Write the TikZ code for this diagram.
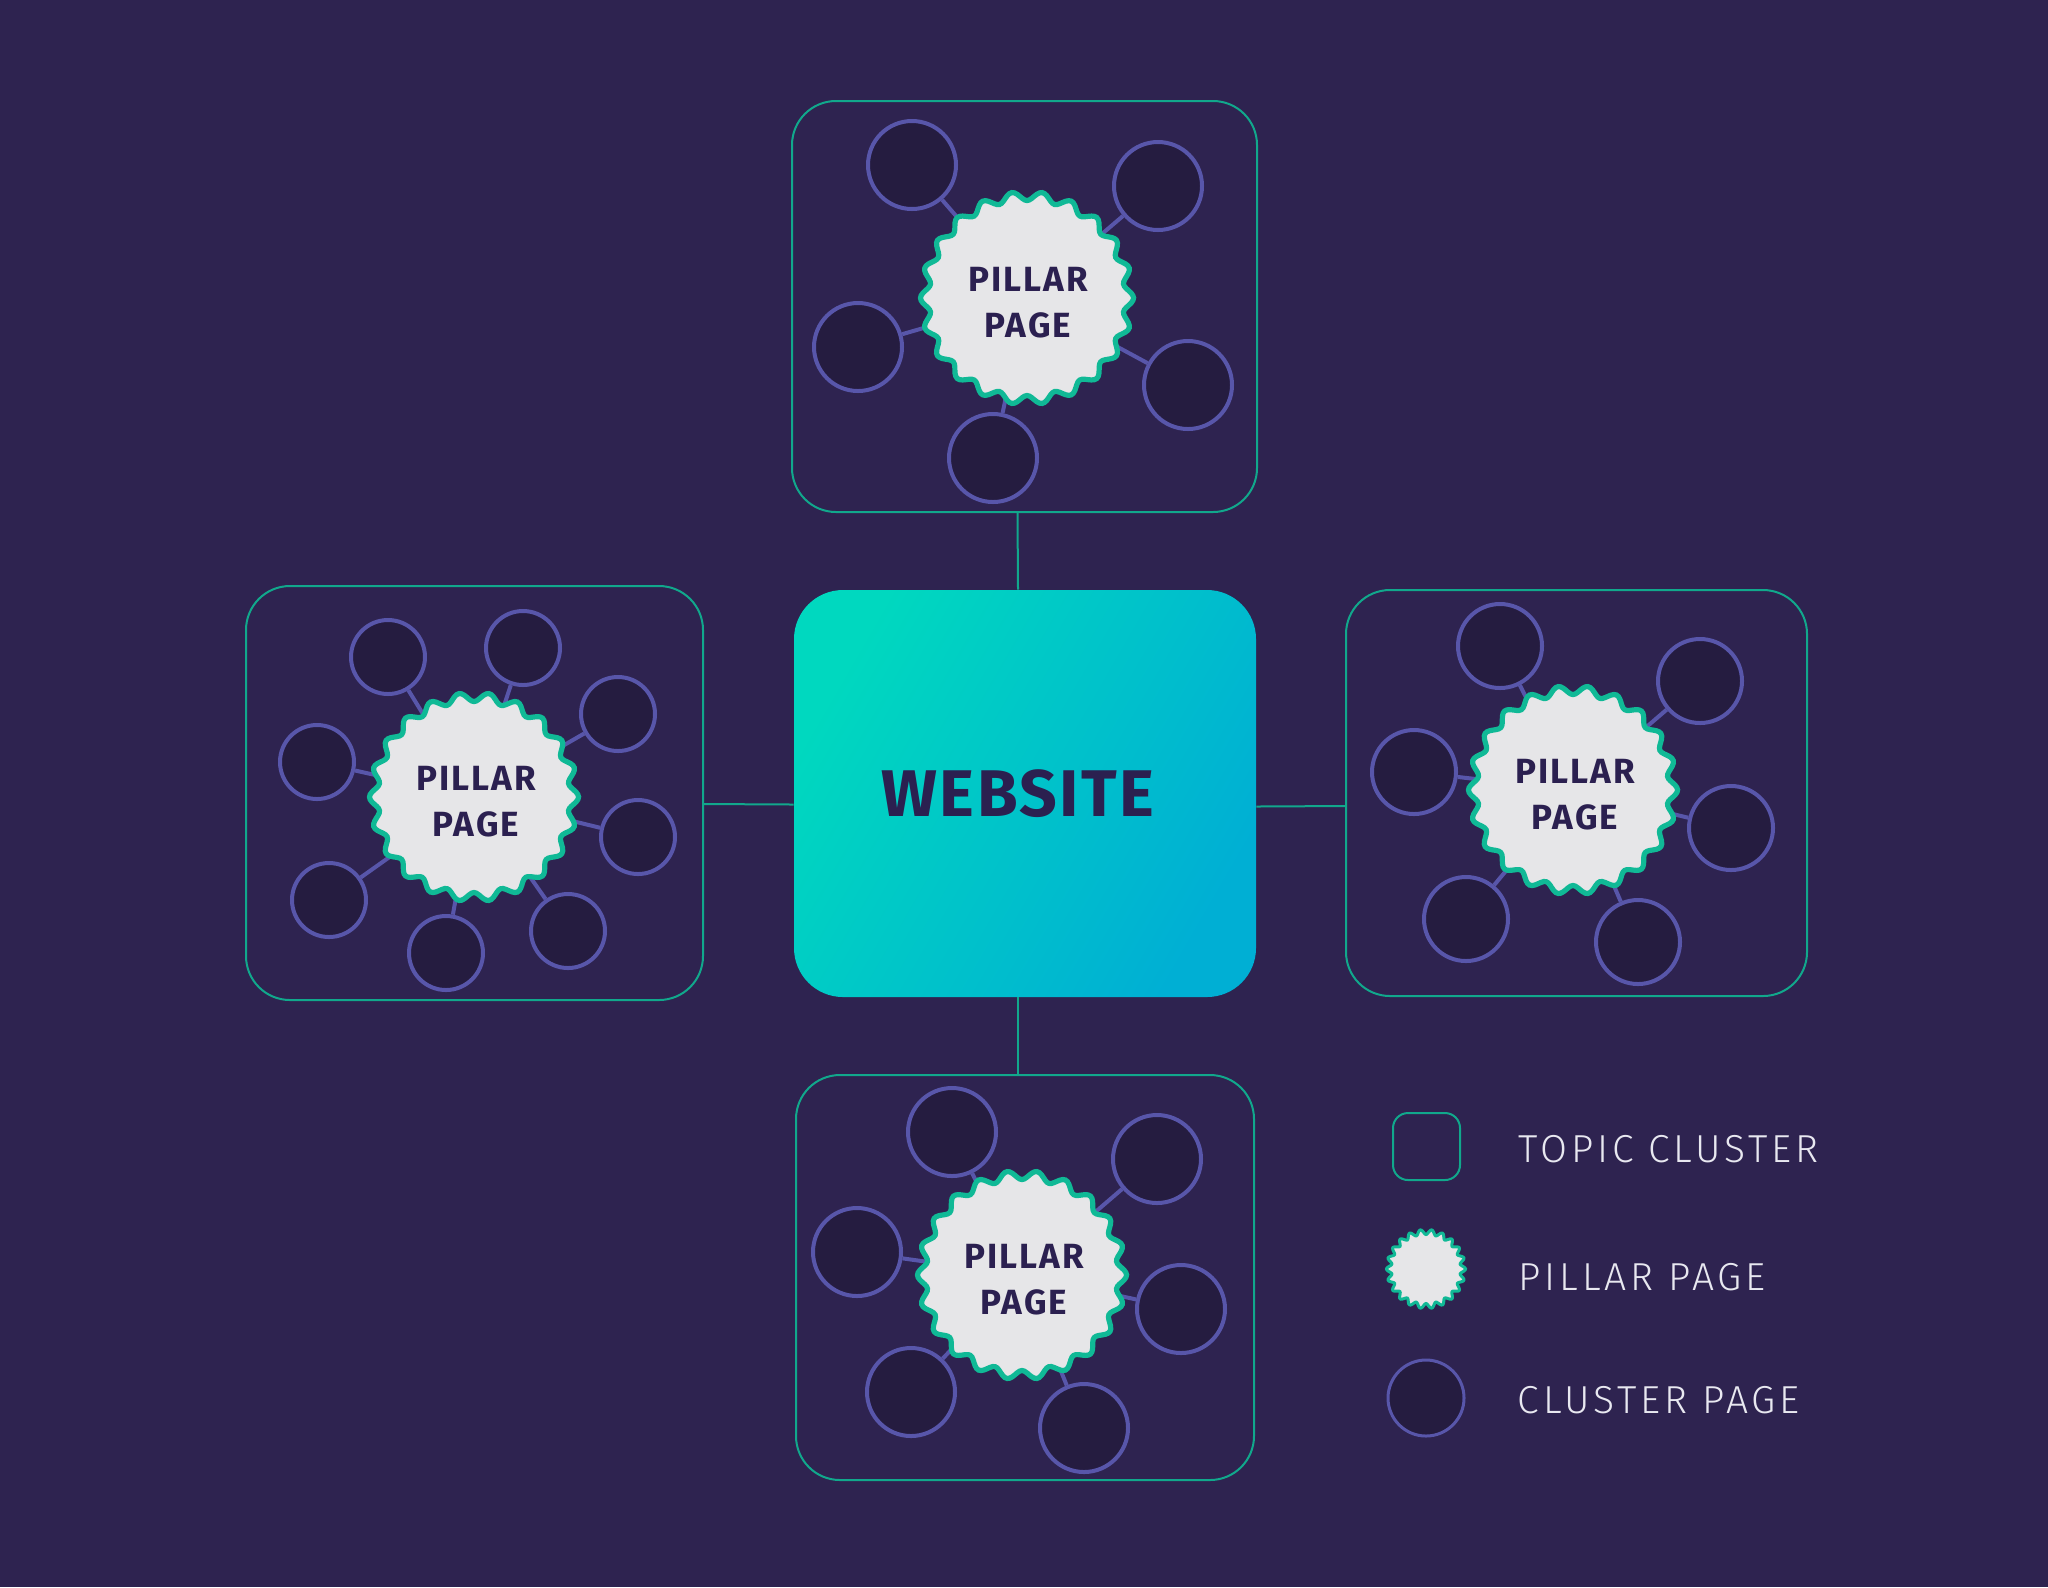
\documentclass[tikz,border=0pt]{standalone}
\usepackage{fontspec}
\usepackage{tikz}
\usetikzlibrary{positioning, calc}

\newfontfamily\pillarfont{Fira Sans}[LetterSpace=6]
\newfontfamily\webfont{Fira Sans}[LetterSpace=4]
\newfontfamily\legendfont{Fira Sans Light}[LetterSpace=10]

\definecolor{bgpurple}{HTML}{2E2350}
\definecolor{clusterfill}{HTML}{251C40}
\definecolor{clusterline}{HTML}{5856AA}
\definecolor{topicline}{HTML}{11A88C}
\definecolor{pillarline}{HTML}{10B996}
\definecolor{pillarfill}{HTML}{E6E6E8}
\definecolor{inkpurple}{HTML}{2B2050}
\definecolor{legendink}{HTML}{E8E8F0}
\definecolor{webgreen}{HTML}{00D8BF}
\definecolor{webblue}{HTML}{00AFD4}

\tikzset{
  topic/.style={draw=topicline, line width=1pt, rounded corners=22pt, inner sep=0pt},
  webbox/.style={rounded corners=24.5pt, inner sep=0pt, top color=webgreen, bottom color=webblue, shading angle=60},
  webtext/.style={text=inkpurple, inner sep=0pt, font=\webfont\bfseries\fontsize{33}{38}\selectfont},
  clusterpg/.style={circle, draw=clusterline, fill=clusterfill, line width=2pt, inner sep=0pt},
  pillarcore/.style={circle, inner sep=0pt},
  pillarshape/.style={draw=pillarline, fill=pillarfill},
  spoke/.style={draw=clusterline, line width=2pt},
  link/.style={draw=topicline, line width=1pt},
  pillartext/.style={text=inkpurple, align=center, inner sep=0pt, font=\pillarfont\bfseries\fontsize{17.5}{23}\selectfont},
  legendtext/.style={text=legendink, inner sep=0pt, font=\legendfont\fontsize{19.5}{23}\selectfont},
}

% wavy outline of a pillar page: x, y, radius, amplitude, line width
\newcommand{\pillarwave}[5]{%
  \path[pillarshape, line width=#5, shift={(#1,#2)}] plot[domain=0:360, samples=265, smooth] (\x:{#3+#4*cos(22*\x)}) -- cycle;}

\begin{document}
\begin{tikzpicture}[x=0.5pt,y=0.5pt,yscale=-1]
% background
\fill[bgpurple] (0,0) rectangle (2048,1587);
\useasboundingbox (0,0) rectangle (2048,1587);

% Topic clusters
\node[topic, minimum width=232.5pt, minimum height=205.5pt] (tbox) at (1024.5,306.5) {};
\node[topic, minimum width=228.5pt, minimum height=207pt] (lbox) at (474.5,793) {};
\node[topic, minimum width=230.5pt, minimum height=203pt] (rbox) at (1576.5,793) {};
\node[topic, minimum width=229pt, minimum height=202.5pt] (bbox) at (1025,1277.5) {};

% Website
\node[webbox, minimum width=231pt, minimum height=203.5pt] (web) at (1025,793.5) {};
\node[webtext] (web-lbl) at (1018,794) {WEBSITE};

%Straight Lines
\draw[link] ($(tbox.south)+(-7,0)$) -- ($(web.north)+(-7,0)$);
\draw[link] ($(lbox.east)+(0,11)$) -- ($(web.west)+(0,11)$);
\draw[link] ($(web.east)+(0,13)$) -- ($(rbox.west)+(0,13)$);
\draw[link] ($(web.south)+(-7,0)$) -- ($(bbox.north)+(-7,0)$);

% Top cluster
\node[pillarcore, minimum size=98pt] (tp) at (1027,298) {};
\node[clusterpg, minimum size=44pt] (t1) at (912,165) {};
\node[clusterpg, minimum size=44pt] (t2) at (1158,186) {};
\node[clusterpg, minimum size=44pt] (t3) at (858,347) {};
\node[clusterpg, minimum size=44pt] (t4) at (1188,385) {};
\node[clusterpg, minimum size=44pt] (t5) at (993,458) {};
\foreach \c in {t1,t2,t3,t4,t5}
  \draw[spoke] (\c) -- (tp);
\pillarwave{1027}{298}{102}{4.5}{2.6pt}
\node[pillartext] (tp-lbl) at (1028,303) {PILLAR\\PAGE};

% Left cluster
\node[pillarcore, minimum size=96pt] (lp) at (474,797) {};
\node[clusterpg, minimum size=37pt] (l1) at (388,657) {};
\node[clusterpg, minimum size=37pt] (l2) at (523,648) {};
\node[clusterpg, minimum size=37pt] (l3) at (618,714) {};
\node[clusterpg, minimum size=37pt] (l4) at (317,762) {};
\node[clusterpg, minimum size=37pt] (l5) at (638,837) {};
\node[clusterpg, minimum size=37pt] (l6) at (329,900) {};
\node[clusterpg, minimum size=37pt] (l7) at (446,953) {};
\node[clusterpg, minimum size=37pt] (l8) at (568,931) {};
\foreach \c in {l1,l2,l3,l4,l5,l6,l7,l8}
  \draw[spoke] (\c) -- (lp);
\pillarwave{474}{797}{100}{4.5}{2.6pt}
\node[pillartext] (lp-lbl) at (476,802) {PILLAR\\PAGE};

% Right cluster
\node[pillarcore, minimum size=96pt] (rp) at (1573,790) {};
\node[clusterpg, minimum size=42pt] (r1) at (1500,646) {};
\node[clusterpg, minimum size=42pt] (r2) at (1700,681) {};
\node[clusterpg, minimum size=42pt] (r3) at (1414,772) {};
\node[clusterpg, minimum size=42pt] (r4) at (1731,828) {};
\node[clusterpg, minimum size=42pt] (r5) at (1466,919) {};
\node[clusterpg, minimum size=42pt] (r6) at (1638,942) {};
\foreach \c in {r1,r2,r3,r4,r5,r6}
  \draw[spoke] (\c) -- (rp);
\pillarwave{1573}{790}{100}{4.5}{2.6pt}
\node[pillartext] (rp-lbl) at (1575,795) {PILLAR\\PAGE};

% Bottom cluster
\node[pillarcore, minimum size=96pt] (bp) at (1022,1275) {};
\node[clusterpg, minimum size=44pt] (b1) at (952,1132) {};
\node[clusterpg, minimum size=44pt] (b2) at (1157,1159) {};
\node[clusterpg, minimum size=44pt] (b3) at (857,1252) {};
\node[clusterpg, minimum size=44pt] (b4) at (1181,1309) {};
\node[clusterpg, minimum size=44pt] (b5) at (911,1392) {};
\node[clusterpg, minimum size=44pt] (b6) at (1084,1428) {};
\foreach \c in {b1,b2,b3,b4,b5,b6}
  \draw[spoke] (\c) -- (bp);
\pillarwave{1022}{1275}{100}{4.5}{2.6pt}
\node[pillartext] (bp-lbl) at (1024,1280) {PILLAR\\PAGE};

% Legend
\node[topic, rounded corners=7.5pt, minimum size=33.5pt] (lgtopic) at (1426.5,1146.5) {};
\pillarwave{1426}{1269}{37}{2.5}{1.5pt}
\node[pillarcore, minimum size=40pt] (lgpillar) at (1426,1269) {};
\node[clusterpg, line width=1.5pt, minimum size=38pt] (lgcluster) at (1426,1398) {};

% Text Node
\node[legendtext, right=28.5pt of lgtopic, yshift=-1.5pt] (lgtopic-txt) {TOPIC CLUSTER};
% Text Node
\node[legendtext, right=26pt of lgpillar, yshift=-4pt] (lgpillar-txt) {PILLAR PAGE};
% Text Node
\node[legendtext, right=26pt of lgcluster, yshift=-1pt] (lgcluster-txt) {CLUSTER PAGE};
\end{tikzpicture}
\end{document}
